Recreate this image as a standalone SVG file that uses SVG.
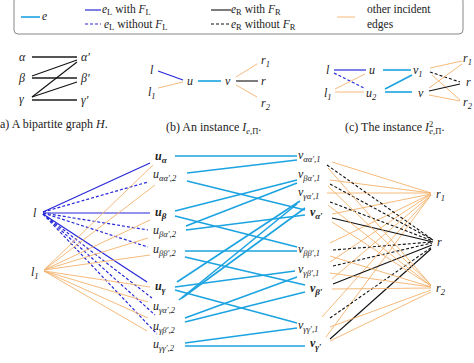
<svg xmlns="http://www.w3.org/2000/svg" width="474" height="363" viewBox="0 0 474 363">
<style>
text{font-family:"Liberation Serif","Times New Roman","DejaVu Serif",serif;fill:#222;font-size:12px}
.it{font-style:italic}
.b{font-weight:bold;font-style:italic}
.s{font-size:8.5px;font-style:italic}
.su{font-size:8.5px}
.lg{font-size:11.5px}
.cy{stroke:#1ca3e0;stroke-width:1.6;fill:none}
.bl{stroke:#2828d8;stroke-width:1.2;fill:none}
.bd{stroke:#2828d8;stroke-width:1.2;stroke-dasharray:3 2;fill:none}
.or{stroke:#f4b26c;stroke-width:0.9;fill:none}
.bk{stroke:#111;stroke-width:1.1;fill:none}
.bkd{stroke:#111;stroke-width:1.1;stroke-dasharray:3 2;fill:none}
.hg{stroke:#555;stroke-width:2;fill:none}
</style>
<!-- legend -->
<g id="legend">
<rect x="14" y="-3" width="449" height="37" rx="4" fill="#fff" stroke="#888" stroke-width="1"/>
<line class="cy" x1="21" y1="17" x2="40" y2="17"/>
<text x="42" y="20" class="it lg">e</text>
<line class="bl" x1="85" y1="10" x2="101" y2="10"/>
<text x="102" y="13" class="lg"><tspan class="it">e</tspan><tspan class="su" dy="2">L</tspan><tspan dy="-2"> with </tspan><tspan class="it">F</tspan><tspan class="su" dy="2">L</tspan></text>
<line class="bd" x1="85" y1="24" x2="101" y2="24"/>
<text x="104" y="28" class="lg"><tspan class="it">e</tspan><tspan class="su" dy="2">L</tspan><tspan dy="-2"> without </tspan><tspan class="it">F</tspan><tspan class="su" dy="2">L</tspan></text>
<line class="bk" x1="211" y1="10" x2="231" y2="10"/>
<text x="231" y="13" class="lg"><tspan class="it">e</tspan><tspan class="su" dy="2">R</tspan><tspan dy="-2"> with </tspan><tspan class="it">F</tspan><tspan class="su" dy="2">R</tspan></text>
<line class="bkd" x1="211" y1="24" x2="229" y2="24"/>
<text x="231" y="28" class="lg"><tspan class="it">e</tspan><tspan class="su" dy="2">R</tspan><tspan dy="-2"> without </tspan><tspan class="it">F</tspan><tspan class="su" dy="2">R</tspan></text>
<line class="or" x1="337" y1="17" x2="355" y2="17"/>
<text x="367" y="13" class="lg">other incident</text>
<text x="367" y="28" class="lg">edges</text>
</g>
<!-- panel a -->
<g id="panel-a">
<line class="hg" x1="32" y1="57" x2="77" y2="57"/>
<line class="hg" x1="32" y1="78" x2="77" y2="78"/>
<line class="hg" x1="32" y1="100" x2="77" y2="100"/>
<line class="bk" x1="32" y1="76" x2="77" y2="60"/>
<line class="bk" x1="32" y1="97" x2="77" y2="62"/>
<line class="bk" x1="32" y1="97" x2="77" y2="82"/>
<text x="19" y="61" class="it" font-size="13">α</text>
<text x="81" y="61" class="it" font-size="13">α′</text>
<text x="19" y="82" class="it" font-size="13">β</text>
<text x="81" y="82" class="it" font-size="13">β′</text>
<text x="19" y="103" class="it" font-size="13">γ</text>
<text x="81" y="104" class="it" font-size="13">γ′</text>
<text x="0" y="128">a) A bipartite graph <tspan class="it">H</tspan>.</text>
</g>
<!-- panel b -->
<g id="panel-b">
<line class="bl" x1="158" y1="71" x2="183" y2="80"/>
<line class="or" x1="158" y1="88" x2="183" y2="82"/>
<line class="cy" x1="198" y1="81" x2="221" y2="81"/>
<line class="or" x1="236" y1="77" x2="257" y2="64"/>
<line class="bk" x1="236" y1="81" x2="258" y2="81"/>
<line class="or" x1="236" y1="85" x2="257" y2="97"/>
<text x="150" y="74" class="it" font-size="13">l</text>
<text x="148" y="96" class="it" font-size="13">l<tspan class="su" dy="3">1</tspan></text>
<text x="187" y="85" class="it" font-size="13">u</text>
<text x="225" y="85" class="it" font-size="13">v</text>
<text x="261" y="85" class="it" font-size="13">r</text>
<text x="261" y="64" class="it" font-size="13">r<tspan class="su" dy="3">1</tspan></text>
<text x="261" y="107" class="it" font-size="13">r<tspan class="su" dy="3">2</tspan></text>
<text x="166" y="131">(b) An instance <tspan class="it">I</tspan><tspan class="s" dy="3">e,</tspan><tspan class="su">Π</tspan><tspan dy="-3">.</tspan></text>
</g>
<!-- panel c -->
<g id="panel-c">
<line class="bl" x1="334" y1="70" x2="366" y2="70"/>
<line class="bd" x1="334" y1="73" x2="364" y2="88"/>
<line class="or" x1="335" y1="89" x2="365" y2="74"/>
<line class="or" x1="335" y1="92" x2="364" y2="92"/>
<line class="cy" x1="383" y1="70" x2="411" y2="70"/>
<line class="cy" x1="385" y1="89" x2="412" y2="75"/>
<line class="cy" x1="385" y1="92" x2="412" y2="92"/>
<line class="or" x1="430" y1="68" x2="462" y2="61"/>
<line class="bkd" x1="430" y1="72" x2="460" y2="82"/>
<line class="or" x1="432" y1="75" x2="460" y2="100"/>
<line class="or" x1="429" y1="88" x2="462" y2="64"/>
<line class="bk" x1="429" y1="91" x2="460" y2="84"/>
<line class="or" x1="429" y1="95" x2="460" y2="101"/>
<text x="326" y="74" class="it" font-size="13">l</text>
<text x="324" y="97" class="it" font-size="13">l<tspan class="su" dy="3">1</tspan></text>
<text x="369" y="74" class="it" font-size="13">u</text>
<text x="366" y="97" class="it" font-size="13">u<tspan class="su" dy="3">2</tspan></text>
<text x="413" y="74" class="it" font-size="13">v<tspan class="su" dy="3">1</tspan></text>
<text x="418" y="97" class="it" font-size="13">v</text>
<text x="463" y="62" class="it" font-size="13">r<tspan class="su" dy="3">1</tspan></text>
<text x="466" y="86" class="it" font-size="13">r</text>
<text x="463" y="106" class="it" font-size="13">r<tspan class="su" dy="3">2</tspan></text>
<text x="345" y="131">(c) The instance <tspan class="it">I</tspan><tspan class="su" dy="-4">2</tspan><tspan class="s" dx="-4" dy="7">e,</tspan><tspan class="su">Π</tspan><tspan dy="-3">.</tspan></text>
</g>
<!-- main connectors -->
<g id="connectors">
<!-- l to u (blue) -->
<line class="bl" x1="43" y1="212" x2="150" y2="163"/>
<line class="bd" x1="43" y1="212" x2="148" y2="182"/>
<line class="bl" x1="43" y1="213" x2="150" y2="213"/>
<line class="bd" x1="43" y1="213" x2="148" y2="230"/>
<line class="bd" x1="43" y1="213" x2="148" y2="247"/>
<line class="bl" x1="43" y1="214" x2="147" y2="282"/>
<line class="bd" x1="43" y1="214" x2="152" y2="298"/>
<line class="bd" x1="43" y1="214" x2="155" y2="315"/>
<line class="bd" x1="43" y1="214" x2="157" y2="334"/>
<!-- l1 to u (orange) -->
<line class="or" x1="44" y1="270" x2="153" y2="165"/>
<line class="or" x1="44" y1="270" x2="155" y2="185"/>
<line class="or" x1="44" y1="270" x2="150" y2="220"/>
<line class="or" x1="44" y1="270" x2="148" y2="238"/>
<line class="or" x1="44" y1="270" x2="150" y2="255"/>
<line class="or" x1="44" y1="271" x2="150" y2="287"/>
<line class="or" x1="44" y1="271" x2="148" y2="302"/>
<line class="or" x1="44" y1="271" x2="148" y2="318"/>
<line class="or" x1="44" y1="271" x2="147" y2="331"/>
<!-- u to v (cyan) -->
<line class="cy" x1="175" y1="156" x2="297" y2="156"/>
<line class="cy" x1="187" y1="173" x2="297" y2="160"/>
<line class="cy" x1="187" y1="181" x2="305" y2="210"/>
<line class="cy" x1="175" y1="211" x2="297" y2="180"/>
<line class="cy" x1="186" y1="226" x2="297" y2="183"/>
<line class="cy" x1="186" y1="230" x2="305" y2="215"/>
<line class="cy" x1="175" y1="216" x2="297" y2="247"/>
<line class="cy" x1="185" y1="251" x2="297" y2="251"/>
<line class="cy" x1="185" y1="257" x2="305" y2="285"/>
<line class="cy" x1="177" y1="282" x2="300" y2="201"/>
<line class="cy" x1="179" y1="300" x2="297" y2="204"/>
<line class="cy" x1="182" y1="298" x2="305" y2="208"/>
<line class="cy" x1="175" y1="287" x2="295" y2="271"/>
<line class="cy" x1="185" y1="318" x2="297" y2="277"/>
<line class="cy" x1="185" y1="322" x2="305" y2="292"/>
<line class="cy" x1="175" y1="290" x2="297" y2="323"/>
<line class="cy" x1="185" y1="343" x2="297" y2="328"/>
<line class="cy" x1="185" y1="346" x2="305" y2="346"/>
<!-- v to r1 (orange) -->
<line class="or" x1="332" y1="162" x2="431" y2="193"/>
<line class="or" x1="330" y1="180" x2="431" y2="193"/>
<line class="or" x1="327" y1="193" x2="431" y2="193"/>
<line class="or" x1="332" y1="214" x2="431" y2="194"/>
<line class="or" x1="330" y1="243" x2="431" y2="194"/>
<line class="or" x1="330" y1="262" x2="431" y2="194"/>
<line class="or" x1="332" y1="279" x2="431" y2="195"/>
<line class="or" x1="322" y1="317" x2="431" y2="195"/>
<line class="or" x1="326" y1="337" x2="431" y2="195"/>
<!-- v to r -->
<line class="bkd" x1="327" y1="165" x2="433" y2="240"/>
<line class="bkd" x1="330" y1="184" x2="433" y2="240"/>
<line class="bkd" x1="330" y1="202" x2="433" y2="241"/>
<line class="bk" x1="332" y1="218" x2="433" y2="242"/>
<line class="bkd" x1="333" y1="250" x2="432" y2="242"/>
<line class="bkd" x1="333" y1="266" x2="432" y2="243"/>
<line class="bk" x1="333" y1="284" x2="432" y2="245"/>
<line class="bkd" x1="330" y1="318" x2="432" y2="247"/>
<line class="bk" x1="330" y1="339" x2="431" y2="249"/>
<!-- v to r2 (orange) -->
<line class="or" x1="328" y1="168" x2="431" y2="285"/>
<line class="or" x1="328" y1="186" x2="431" y2="285"/>
<line class="or" x1="328" y1="205" x2="431" y2="286"/>
<line class="or" x1="332" y1="222" x2="431" y2="286"/>
<line class="or" x1="330" y1="256" x2="431" y2="287"/>
<line class="or" x1="330" y1="273" x2="431" y2="287"/>
<line class="or" x1="332" y1="289" x2="431" y2="288"/>
<line class="or" x1="330" y1="327" x2="431" y2="290"/>
<line class="or" x1="330" y1="341" x2="431" y2="292"/>
</g>
<!-- main nodes -->
<g id="n-l"><text x="33" y="217" class="it" font-size="13">l</text></g>
<g id="n-l1"><text x="31" y="276" class="it" font-size="13">l<tspan class="su" dy="3">1</tspan></text></g>
<g id="n-ua"><text x="155" y="160" class="b" font-size="13">u<tspan font-size="9" dy="3">α</tspan></text></g>
<g id="n-uaa2"><text x="153" y="178" class="it" font-size="12">u<tspan class="s" dy="3">αα′,2</tspan></text></g>
<g id="n-ub"><text x="155" y="216" class="b" font-size="13">u<tspan font-size="9" dy="3">β</tspan></text></g>
<g id="n-uba2"><text x="153" y="234" class="it" font-size="12">u<tspan class="s" dy="3">βα′,2</tspan></text></g>
<g id="n-ubb2"><text x="153" y="253" class="it" font-size="12">u<tspan class="s" dy="3">ββ′,2</tspan></text></g>
<g id="n-ug"><text x="155" y="290" class="b" font-size="13">u<tspan font-size="9" dy="3">γ</tspan></text></g>
<g id="n-uga2"><text x="153" y="310" class="it" font-size="12">u<tspan class="s" dy="3">γα′,2</tspan></text></g>
<g id="n-ugb2"><text x="153" y="330" class="it" font-size="12">u<tspan class="s" dy="3">γβ′,2</tspan></text></g>
<g id="n-ugg2"><text x="153" y="348" class="it" font-size="12">u<tspan class="s" dy="3">γγ′,2</tspan></text></g>
<g id="n-vaa1"><text x="298" y="159" class="it" font-size="12">v<tspan class="s" dy="3">αα′,1</tspan></text></g>
<g id="n-vba1"><text x="298" y="178" class="it" font-size="12">v<tspan class="s" dy="3">βα′,1</tspan></text></g>
<g id="n-vga1"><text x="298" y="196" class="it" font-size="12">v<tspan class="s" dy="3">γα′,1</tspan></text></g>
<g id="n-va"><text x="310" y="216" class="b" font-size="13">v<tspan font-size="9" dy="3">α′</tspan></text></g>
<g id="n-vbb1"><text x="298" y="253" class="it" font-size="12">v<tspan class="s" dy="3">ββ′,1</tspan></text></g>
<g id="n-vgb1"><text x="298" y="273" class="it" font-size="12">v<tspan class="s" dy="3">γβ′,1</tspan></text></g>
<g id="n-vb"><text x="310" y="292" class="b" font-size="13">v<tspan font-size="9" dy="3">β′</tspan></text></g>
<g id="n-vgg1"><text x="298" y="329" class="it" font-size="12">v<tspan class="s" dy="3">γγ′,1</tspan></text></g>
<g id="n-vg"><text x="310" y="347" class="b" font-size="13">v<tspan font-size="9" dy="3">γ′</tspan></text></g>
<g id="n-r1"><text x="436" y="198" class="it" font-size="13">r<tspan class="su" dy="3">1</tspan></text></g>
<g id="n-r"><text x="437" y="246" class="it" font-size="13">r</text></g>
<g id="n-r2"><text x="436" y="292" class="it" font-size="13">r<tspan class="su" dy="3">2</tspan></text></g>
</svg>
